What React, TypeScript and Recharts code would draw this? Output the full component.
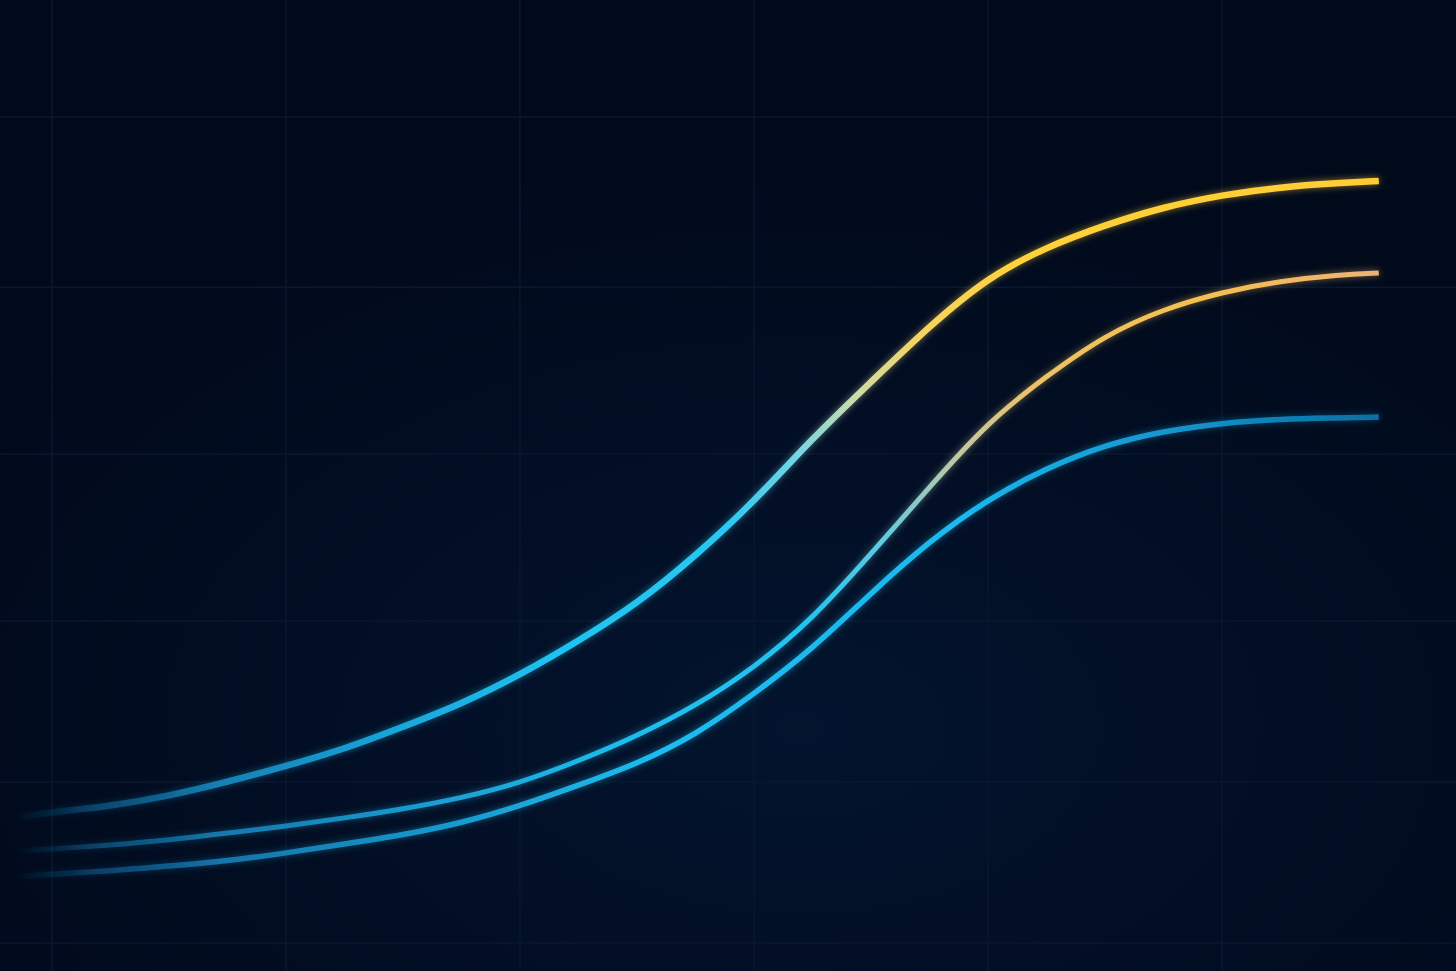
import { CartesianGrid, Line, LineChart, XAxis, YAxis } from "recharts";

// x positions in grid columns, y values in grid rows
const xs = [
  -0.16, 0, 0.25, 0.5, 0.75, 1, 1.25, 1.5, 1.75, 2, 2.25, 2.5, 2.75, 3, 3.25,
  3.5, 3.75, 4, 4.25, 4.5, 4.75, 5, 5.25, 5.5, 5.67,
];

const upper = [
  0.757, 0.793, 0.829, 0.89, 0.975, 1.071, 1.174, 1.308, 1.447, 1.622, 1.828,
  2.052, 2.343, 2.67, 3.057, 3.396, 3.735, 4.031, 4.213, 4.346, 4.455, 4.528,
  4.576, 4.6, 4.613,
];

const middle = [
  0.557, 0.569, 0.593, 0.623, 0.666, 0.708, 0.757, 0.811, 0.878, 0.969, 1.102,
  1.253, 1.435, 1.665, 1.961, 2.355, 2.76, 3.154, 3.432, 3.68, 3.838, 3.941,
  4.007, 4.044, 4.056,
];

const lower = [
  0.4, 0.418, 0.436, 0.466, 0.496, 0.545, 0.599, 0.654, 0.726, 0.829, 0.956,
  1.084, 1.259, 1.507, 1.78, 2.119, 2.433, 2.688, 2.875, 3.015, 3.099, 3.148,
  3.172, 3.178, 3.184,
];

const gridX = [0, 1, 2, 3, 4, 5];
const gridY = [0, 0.975, 1.95, 2.96, 3.97, 5];

const data = xs.map((x, i) => ({
  x,
  upper: upper[i],
  middle: middle[i],
  lower: lower[i],
}));

const W = 1456;
const H = 971;

export default function App() {
  return (
    <div
      style={{
        width: W,
        height: H,
        background:
          "radial-gradient(ellipse 65% 60% at 55% 75%, #03142e 0%, #020e24 50%, #010a1b 100%)",
      }}
    >
      <style>{`body{margin:0;background:#010a1b}`}</style>
      <LineChart
        width={W}
        height={H}
        data={data}
        margin={{ top: 0, right: 0, bottom: 0, left: 0 }}
      >
        <defs>
          <filter
            id="glow"
            filterUnits="userSpaceOnUse"
            x="0"
            y="0"
            width={W}
            height={H}
          >
            <feGaussianBlur stdDeviation="3.5" result="blur" />
            <feComponentTransfer in="blur" result="soft">
              <feFuncA type="linear" slope="0.55" />
            </feComponentTransfer>
            <feMerge>
              <feMergeNode in="soft" />
              <feMergeNode in="SourceGraphic" />
            </feMerge>
          </filter>
          <linearGradient id="gUpper" gradientUnits="userSpaceOnUse" x1="0" y1="0" x2={W} y2="0">
            <stop offset="0.01" stopColor="#0d4a72" stopOpacity="0" />
            <stop offset="0.07" stopColor="#0f5a88" stopOpacity="0.7" />
            <stop offset="0.15" stopColor="#1580b4" />
            <stop offset="0.28" stopColor="#1aa8dc" />
            <stop offset="0.38" stopColor="#1ec2f0" />
            <stop offset="0.5" stopColor="#2ac8f2" />
            <stop offset="0.55" stopColor="#7ad6e2" />
            <stop offset="0.59" stopColor="#d0dca4" />
            <stop offset="0.63" stopColor="#f4d464" />
            <stop offset="0.7" stopColor="#fed23a" />
            <stop offset="0.95" stopColor="#ffcc36" />
          </linearGradient>
          <linearGradient id="gMiddle" gradientUnits="userSpaceOnUse" x1="0" y1="0" x2={W} y2="0">
            <stop offset="0.01" stopColor="#0d4a72" stopOpacity="0" />
            <stop offset="0.07" stopColor="#0f5a88" stopOpacity="0.7" />
            <stop offset="0.15" stopColor="#1478aa" />
            <stop offset="0.3" stopColor="#1a9ed4" />
            <stop offset="0.42" stopColor="#1ebcec" />
            <stop offset="0.56" stopColor="#24c4f0" />
            <stop offset="0.61" stopColor="#68cade" />
            <stop offset="0.66" stopColor="#c4c8a0" />
            <stop offset="0.71" stopColor="#ecc266" />
            <stop offset="0.82" stopColor="#f5c050" />
            <stop offset="0.95" stopColor="#eeb274" />
          </linearGradient>
          <linearGradient id="gLower" gradientUnits="userSpaceOnUse" x1="0" y1="0" x2={W} y2="0">
            <stop offset="0.01" stopColor="#0c4a72" stopOpacity="0" />
            <stop offset="0.07" stopColor="#0d5282" stopOpacity="0.7" />
            <stop offset="0.15" stopColor="#1474a8" />
            <stop offset="0.3" stopColor="#1898cc" />
            <stop offset="0.45" stopColor="#1ebcee" />
            <stop offset="0.66" stopColor="#1ab8ee" />
            <stop offset="0.8" stopColor="#1496d0" />
            <stop offset="0.95" stopColor="#0c6ea0" />
          </linearGradient>
        </defs>
        <XAxis dataKey="x" type="number" domain={[-0.222, 6]} hide />
        <YAxis type="number" domain={[-0.169, 5.708]} hide />
        <CartesianGrid
          stroke="#09182e"
          strokeWidth={1.5}
          verticalValues={gridX}
          horizontalValues={gridY}
        />
        <Line
          type="basis"
          dataKey="lower"
          stroke="url(#gLower)"
          strokeWidth={5.5}
          dot={false}
          activeDot={false}
          filter="url(#glow)"
          isAnimationActive={false}
        />
        <Line
          type="basis"
          dataKey="middle"
          stroke="url(#gMiddle)"
          strokeWidth={5}
          dot={false}
          activeDot={false}
          filter="url(#glow)"
          isAnimationActive={false}
        />
        <Line
          type="basis"
          dataKey="upper"
          stroke="url(#gUpper)"
          strokeWidth={6.5}
          dot={false}
          activeDot={false}
          filter="url(#glow)"
          isAnimationActive={false}
        />
      </LineChart>
    </div>
  );
}
